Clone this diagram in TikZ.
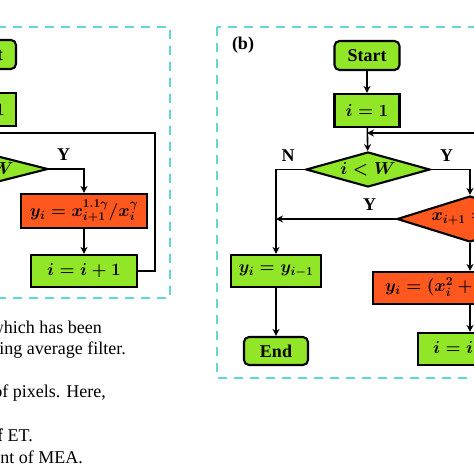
\documentclass[tikz,border=0pt]{standalone}
\usepackage{fontspec}
\setmainfont{Liberation Serif}
\usepackage{tikz}
\usetikzlibrary{arrows.meta,positioning,shapes.geometric}
\definecolor{boxgreen}{RGB}{146,230,40}
\definecolor{boxorange}{RGB}{255,88,30}
\definecolor{frameteal}{RGB}{100,214,214}
\begin{document}
\begin{tikzpicture}[x=1pt, y=-1pt, >={Stealth[length=7pt,width=7pt]},
  every node/.style={font=\fontsize{18}{21}\selectfont\bfseries\boldmath},
  greenbox/.style={draw, line width=2.1pt, fill=boxgreen, inner sep=0pt},
  orangebox/.style={draw, line width=2.1pt, fill=boxorange, inner sep=0pt},
  termbox/.style={greenbox, rounded corners=5pt},
  decision/.style={draw, line width=2.1pt, shape=diamond, inner sep=0pt},
  flowline/.style={->, line width=1.6pt},
  panel/.style={draw=frameteal, line width=2pt, dash pattern=on 9pt off 7pt},
  note/.style={anchor=base east, inner sep=0pt, font=\fontsize{18}{21}\selectfont}]
\useasboundingbox (0,0) rectangle (474,474);
\clip (0,0) rectangle (474,474);
\draw[panel] (-100,27) rectangle (170,298);
\draw[panel] (217,27) rectangle (620,378);
\node[termbox, minimum width=65pt, minimum height=29pt] (lstart) at (-16.5,54.5) {Start};
\node[greenbox, minimum width=65pt, minimum height=33pt] (lone) at (-16.5,109.5) {$i=1$};
\node[decision, fill=boxgreen, aspect=3.9, minimum width=124pt, minimum height=32pt] (ltest) at (-14,169) {$i<W$};
\node[orangebox, minimum width=126pt, minimum height=34pt] (lratio) at (84,211) {$y_i=x_{i+1}^{1.1\gamma}/x_i^{\gamma}$};
\node[greenbox, minimum width=106pt, minimum height=32pt] (linc) at (84,271) {$i=i+1$};
\coordinate (ljoin) at (-16.5,133);
\draw[flowline] (ltest.east) -| (lratio.north) node[pos=0.21, above=4pt] {Y};
\draw[flowline] (lratio) -- (linc);
\draw[flowline] (linc.east) -- ++(17,0) |- (ljoin);
\node at (243,45) {(b)};
\node[termbox, minimum width=65pt, minimum height=29pt] (rstart) at (367,55.5) {Start};
\node[greenbox, minimum width=65pt, minimum height=33pt] (rone) at (367,110.5) {$i=1$};
\node[decision, fill=boxgreen, aspect=3.5, minimum width=124pt, minimum height=35pt] (rtest) at (368,169.5) {$i<W$};
\node[decision, fill=boxorange, aspect=3.2, minimum width=146pt, minimum height=46pt] (rcheck) at (470,219) {$x_{i+1}=x_i$};
\node[greenbox, minimum width=90pt, minimum height=32pt] (rkeep) at (276,271) {$y_i=y_{i-1}$};
\node[termbox, minimum width=64pt, minimum height=28pt] (rend) at (276,351) {End};
\node[orangebox, minimum width=194pt, minimum height=32pt] (rmean) at (470,288) {$y_i=(x_i^2+x_{i+1}^2)/2x_i$};
\node[greenbox, minimum width=104pt, minimum height=32pt] (rinc) at (470,349) {$i=i+1$};
\coordinate (rjoin) at (367,133);
\draw[flowline] (rstart) -- (rone);
\draw[flowline] (rone) -- (rtest);
\draw[flowline] (rtest.west) -| (rkeep.north) node[pos=0.29, above=4pt] {N};
\draw[flowline] (rtest.east) -| (rcheck.north) node[pos=0.2, above=4pt] {Y};
\draw[flowline] (rcheck.west) -- (rkeep.north |- rcheck.west) node[pos=0.22, above=4pt] {Y};
\draw[flowline] (rcheck) -- (rmean);
\draw[flowline] (rmean) -- (rinc);
\draw[flowline] (rkeep) -- (rend);
\draw[flowline] (rinc.east) -- ++(17,0) |- (rjoin);
\node[note] (t1) at (102,333) {filtered signal which has been};
\node[note] (t2) at (126,354) {processed by a moving average filter.};
\node[note] (t3) at (106,397) {is the number of pixels. Here,};
\node[note] (t4) at (33,441) {the \textbf{length of} ET.};
\node[note] (t5) at (83,463) {is the element of MEA.};
\end{tikzpicture}
\end{document}
